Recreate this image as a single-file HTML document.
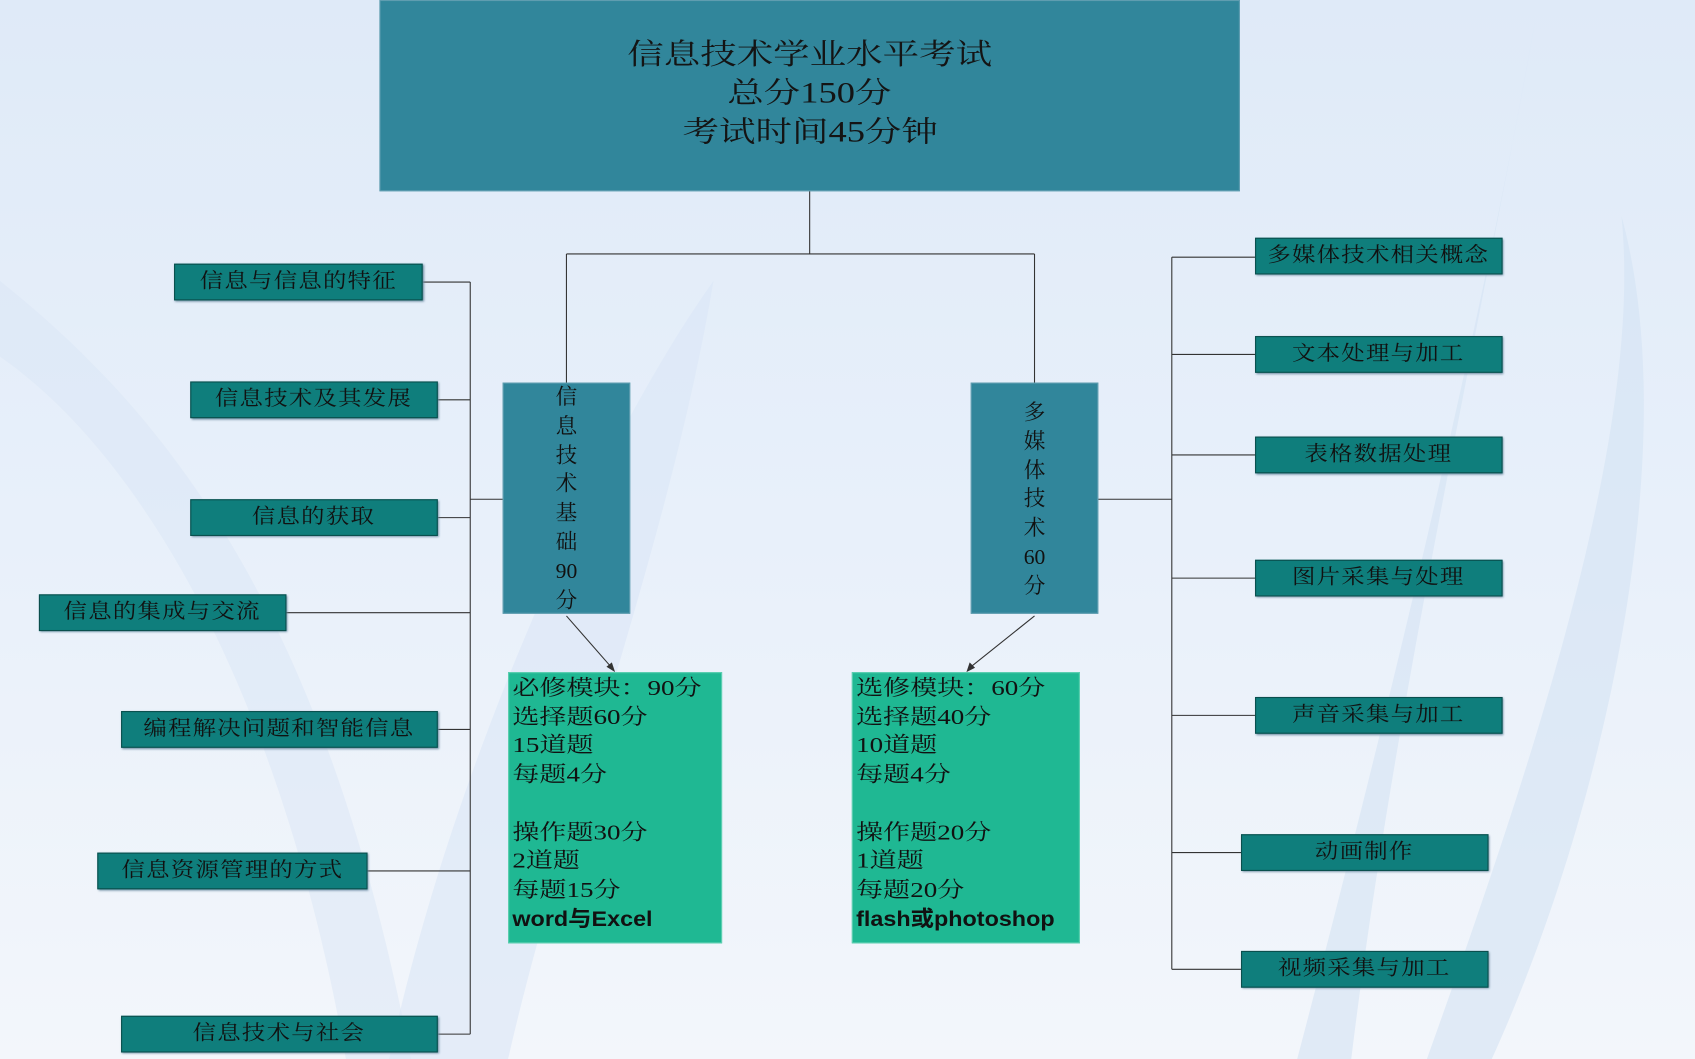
<!DOCTYPE html>
<html><head><meta charset="utf-8"><style>
html,body{margin:0;padding:0;width:1695px;height:1059px;overflow:hidden}
#w{position:absolute;left:0;top:0;width:1568px;height:980px;transform:scale(1.081,1.0806);transform-origin:0 0;
background:linear-gradient(180deg,#dfeaf8 0%,#e8f0fa 50%,#f3f6fb 100%);font-family:"Liberation Serif","Noto Serif CJK SC",serif;color:#111}
.b{position:absolute;box-sizing:border-box}
.top{left:351px;top:0;width:796px;height:177px;background:#31869b;border:1px solid #5f9db0;text-align:center;font-size:27px;line-height:36px;padding-top:31px;color:#141414}
.top span{display:inline-block;transform:scaleX(1.25)}
.v{background:#31869b;border:1px solid #5f9db0;text-align:center;font-size:20px;line-height:26.8px}
.g{background:#1fb893;border:1px solid #5ccfb0;font-size:20px;line-height:26.7px;padding:1px 0 0 3px}
.g span{display:inline-block;transform:scaleX(1.25);transform-origin:0 0;white-space:nowrap}
.s{background:#0f7e7c;border:1px solid #0a4f4d;box-shadow:1px 1px 2px #6a8aa0;text-align:center;font-size:19px;line-height:31px;color:#111;height:34px;white-space:nowrap}
.s span{display:inline-block;transform:scaleX(1.14);letter-spacing:1px}
.en{font-family:"Liberation Sans","Noto Sans CJK SC",sans-serif;font-weight:bold}
.g span.en{transform:scaleX(1.08)}
</style></head><body><div id="w">
<svg class="b" style="left:0;top:0" width="1568" height="980">
<path d="M1200,980 C1300,600 1380,250 1420,20 C1370,300 1290,650 1250,980Z" fill="#d3e2f4" opacity=".6"/>
<path d="M1320,980 C1420,700 1520,400 1500,200 C1560,420 1480,760 1380,980Z" fill="#d3e2f4" opacity=".6"/>
<path d="M360,980 C420,700 560,400 660,260 C620,500 520,760 470,980Z" fill="#dae6f6" opacity=".6"/>
<path d="M0,260 C150,380 300,560 380,980 L320,980 C260,640 130,420 0,330Z" fill="#dae6f6" opacity=".5"/>
<g stroke="#333" stroke-width="1" fill="none">
<path d="M749,177V235M524,235H957M524,235V354M957,235V354"/>
<path d="M435,261V957M435,462H465"/>
<path d="M391,261H435M405,370H435M405,479H435M265,567H435M405,675H435M340,806H435M405,957H435"/>
<path d="M1084,238V897M1016,462H1084"/>
<path d="M1084,238H1161M1084,328H1161M1084,421H1161M1084,535H1161M1084,662H1161M1084,789H1148M1084,897H1148"/>
<path d="M524,570L566,618M957,570L897,618"/>
</g>
<path d="M569,622L561,617L566,613Z" fill="#333"/>
<path d="M894,622L897,613L902,618Z" fill="#333"/>
</svg>
<div class="b top"><span>信息技术学业水平考试</span><br><span>总分150分</span><br><span>考试时间45分钟</span></div>
<div class="b v" style="left:465px;top:354px;width:118px;height:214px;padding-top:0">信<br>息<br>技<br>术<br>基<br>础<br>90<br>分</div>
<div class="b v" style="left:898px;top:354px;width:118px;height:214px;padding-top:14px">多<br>媒<br>体<br>技<br>术<br>60<br>分</div>
<div class="b g" style="left:470px;top:622px;width:198px;height:251px"><span>必修模块：90分</span><br><span>选择题60分</span><br><span>15道题</span><br><span>每题4分</span><br><br><span>操作题30分</span><br><span>2道题</span><br><span>每题15分</span><br><span class="en">word与Excel</span></div>
<div class="b g" style="left:788px;top:622px;width:211px;height:251px"><span>选修模块：60分</span><br><span>选择题40分</span><br><span>10道题</span><br><span>每题4分</span><br><br><span>操作题20分</span><br><span>1道题</span><br><span>每题20分</span><br><span class="en">flash或photoshop</span></div>
<div class="b s" style="left:161px;top:244px;width:230px"><span>信息与信息的特征</span></div>
<div class="b s" style="left:176px;top:353px;width:229px"><span>信息技术及其发展</span></div>
<div class="b s" style="left:176px;top:462px;width:229px"><span>信息的获取</span></div>
<div class="b s" style="left:36px;top:550px;width:229px"><span>信息的集成与交流</span></div>
<div class="b s" style="left:112px;top:658px;width:293px"><span>编程解决问题和智能信息</span></div>
<div class="b s" style="left:90px;top:789px;width:250px"><span>信息资源管理的方式</span></div>
<div class="b s" style="left:112px;top:940px;width:293px"><span>信息技术与社会</span></div>
<div class="b s" style="left:1161px;top:220px;width:229px"><span>多媒体技术相关概念</span></div>
<div class="b s" style="left:1161px;top:311px;width:229px"><span>文本处理与加工</span></div>
<div class="b s" style="left:1161px;top:404px;width:229px"><span>表格数据处理</span></div>
<div class="b s" style="left:1161px;top:518px;width:229px"><span>图片采集与处理</span></div>
<div class="b s" style="left:1161px;top:645px;width:229px"><span>声音采集与加工</span></div>
<div class="b s" style="left:1148px;top:772px;width:229px"><span>动画制作</span></div>
<div class="b s" style="left:1148px;top:880px;width:229px"><span>视频采集与加工</span></div>
</div></body></html>
